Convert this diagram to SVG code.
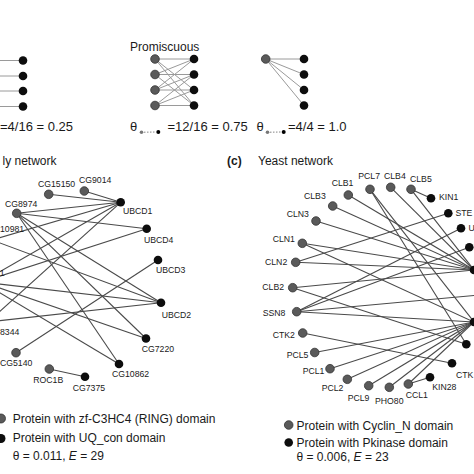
<svg xmlns="http://www.w3.org/2000/svg" width="474" height="474" viewBox="0 0 474 474">
<style>
text{font-family:"Liberation Sans",Arial,sans-serif;fill:#1a1a1a}
.lbl{font-size:8.7px}
.ttl{font-size:12px}
.big{font-size:13px}
.leg{font-size:12px}
.g{fill:#5a5a5a;stroke:#333;stroke-width:0.8}
.k{fill:#0d0d0d}
.e1{stroke:#9a9a9a;stroke-width:1;fill:none}
.e{stroke:#4a4a4a;stroke-width:1.1;fill:none}
</style>
<rect width="474" height="474" fill="#fff"/>

<!-- top schematic -->
<g id="topEdges" class="e1">
<line x1="-5" y1="60.5" x2="23" y2="60.5"/><line x1="-5" y1="76" x2="23" y2="76"/><line x1="-5" y1="91" x2="23" y2="91"/><line x1="-5" y1="106.5" x2="23" y2="106.5"/>
<line x1="155" y1="59" x2="194" y2="59"/><line x1="155" y1="59" x2="194" y2="90"/><line x1="155" y1="59" x2="194" y2="105.5"/>
<line x1="155" y1="74.5" x2="194" y2="59"/><line x1="155" y1="74.5" x2="194" y2="74.5"/><line x1="155" y1="74.5" x2="194" y2="105.5"/>
<line x1="155" y1="90" x2="194" y2="59"/><line x1="155" y1="90" x2="194" y2="74.5"/><line x1="155" y1="90" x2="194" y2="90"/>
<line x1="155" y1="105.5" x2="194" y2="74.5"/><line x1="155" y1="105.5" x2="194" y2="90"/><line x1="155" y1="105.5" x2="194" y2="105.5"/>
<line x1="265.7" y1="59" x2="304" y2="59"/><line x1="265.7" y1="59" x2="304" y2="74.5"/><line x1="265.7" y1="59" x2="304" y2="90"/><line x1="265.7" y1="59" x2="304" y2="105.5"/>
</g>
<g id="schematic1">
<circle class="k" cx="23" cy="60.5" r="4.3"/><circle class="k" cx="23" cy="76" r="4.3"/><circle class="k" cx="23" cy="91" r="4.3"/><circle class="k" cx="23" cy="106.5" r="4.3"/>
<text class="big" x="0" y="131">=4/16 = 0.25</text>
</g>
<g id="schematic2">
<text class="ttl" x="130" y="51">Promiscuous</text>
<circle class="g" cx="155" cy="59" r="4.3"/><circle class="g" cx="155" cy="74.5" r="4.3"/><circle class="g" cx="155" cy="90" r="4.3"/><circle class="g" cx="155" cy="105.5" r="4.3"/>
<circle class="k" cx="194" cy="59" r="4.3"/><circle class="k" cx="194" cy="74.5" r="4.3"/><circle class="k" cx="194" cy="90" r="4.3"/><circle class="k" cx="194" cy="105.5" r="4.3"/>
<text class="big" x="130" y="131">θ</text>
<circle cx="141.5" cy="132.3" r="1.8" fill="#777"/><line x1="144" y1="132.2" x2="156" y2="132" stroke="#666" stroke-width="0.8" stroke-dasharray="1.5 1.5"/><circle cx="158.3" cy="132" r="2" fill="#000"/>
<text class="big" x="167.5" y="131">=12/16 = 0.75</text>
</g>
<g id="schematic3">
<circle class="g" cx="265.7" cy="59" r="4.3"/>
<circle class="k" cx="304" cy="59" r="4.3"/><circle class="k" cx="304" cy="74.5" r="4.3"/><circle class="k" cx="304" cy="90" r="4.3"/><circle class="k" cx="304" cy="105.5" r="4.3"/>
<text class="big" x="256.5" y="131">θ</text>
<circle cx="267.5" cy="132.3" r="1.8" fill="#777"/><line x1="270" y1="132.2" x2="281.5" y2="132" stroke="#666" stroke-width="0.8" stroke-dasharray="1.5 1.5"/><circle cx="283.7" cy="132" r="2" fill="#000"/>
<text class="big" x="288" y="131">=4/4 = 1.0</text>
</g>

<!-- fly network -->
<text class="ttl" x="2.5" y="165">ly network</text>
<g id="flyEdges" class="e">
<line x1="48.7" y1="194.3" x2="120.7" y2="202.3"/>
<line x1="84.3" y1="191" x2="120.7" y2="202.3"/>
<line x1="16.7" y1="213.3" x2="120.7" y2="202.3"/>
<line x1="16.7" y1="213.3" x2="146.7" y2="228.7"/>
<line x1="16.7" y1="213.3" x2="161" y2="302.7"/>
<line x1="16.7" y1="213.3" x2="146" y2="338.5"/>
<line x1="16.7" y1="213.3" x2="119" y2="364"/>
<line x1="-8" y1="240" x2="120.7" y2="202.3"/>
<line x1="-8" y1="240" x2="161" y2="302.7"/>
<line x1="-18" y1="282" x2="120.7" y2="202.3"/>
<line x1="-18" y1="282" x2="146.7" y2="228.7"/>
<line x1="-18" y1="282" x2="161" y2="302.7"/>
<line x1="-18" y1="282" x2="146" y2="338.5"/>
<line x1="-18" y1="282" x2="119" y2="364"/>
<line x1="-12" y1="322" x2="120.7" y2="202.3"/>
<line x1="-12" y1="322" x2="161" y2="302.7"/>
<line x1="16" y1="352.7" x2="158" y2="260"/>
<line x1="49.3" y1="369" x2="85" y2="376.7"/>
</g>
<g id="CG15150"><circle class="g" cx="48.7" cy="194.3" r="4.3"/><text class="lbl" x="38" y="187">CG15150</text></g>
<g id="CG9014"><circle class="g" cx="84.3" cy="191" r="4.3"/><text class="lbl" x="79" y="183">CG9014</text></g>
<g id="CG8974"><circle class="g" cx="16.7" cy="213.3" r="4.3"/><text class="lbl" x="5" y="206.5">CG8974</text></g>
<g id="CG10981"><circle class="g" cx="-8" cy="240" r="4.3"/><text class="lbl" x="0" y="231.5">10981</text></g>
<g id="CG1"><circle class="g" cx="-18" cy="282" r="4.3"/><text class="lbl" x="4.5" y="275.5" text-anchor="end">1</text></g>
<g id="CG8344"><circle class="g" cx="-12" cy="322" r="4.3"/><text class="lbl" x="0" y="335">8344</text></g>
<g id="CG5140"><circle class="g" cx="16" cy="352.7" r="4.3"/><text class="lbl" x="0" y="366">CG5140</text></g>
<g id="ROC1B"><circle class="g" cx="49.3" cy="369" r="4.3"/><text class="lbl" x="33.3" y="383">ROC1B</text></g>
<g id="CG7375"><circle class="k" cx="85" cy="376.7" r="4.3"/><text class="lbl" x="72.7" y="391">CG7375</text></g>
<g id="CG10862"><circle class="k" cx="119" cy="364" r="4.3"/><text class="lbl" x="112" y="376.5">CG10862</text></g>
<g id="CG7220"><circle class="k" cx="146" cy="338.5" r="4.3"/><text class="lbl" x="141.7" y="352">CG7220</text></g>
<g id="UBCD2"><circle class="k" cx="161" cy="302.7" r="4.3"/><text class="lbl" x="161.7" y="318">UBCD2</text></g>
<g id="UBCD3"><circle class="k" cx="158" cy="260" r="4.3"/><text class="lbl" x="156" y="273">UBCD3</text></g>
<g id="UBCD4"><circle class="k" cx="146.7" cy="228.7" r="4.3"/><text class="lbl" x="144" y="242.5">UBCD4</text></g>
<g id="UBCD1"><circle class="k" cx="120.7" cy="202.3" r="4.3"/><text class="lbl" x="123" y="214">UBCD1</text></g>
<g id="flyLegend">
<circle class="g" cx="1" cy="418.5" r="4.5"/><text class="leg" x="12.7" y="422.5">Protein with zf-C3HC4 (RING) domain</text>
<circle class="k" cx="1" cy="438.5" r="4.5"/><text class="leg" x="12.7" y="442.3">Protein with UQ_con domain</text>
<text class="leg" x="12.7" y="460.3">θ = 0.011, <tspan font-style="italic">E</tspan> = 29</text>
</g>

<!-- yeast network -->
<text x="227" y="165" style="font-size:12px;font-weight:bold">(c)</text>
<text class="ttl" x="258" y="165">Yeast network</text>
<g id="yeastEdges" class="e">
<line x1="348.3" y1="195" x2="474" y2="270"/>
<line x1="332.7" y1="206" x2="474" y2="270"/>
<line x1="390.7" y1="187.3" x2="474" y2="270"/>
<line x1="411" y1="189.3" x2="474" y2="270"/>
<line x1="411" y1="189.3" x2="431" y2="198.3"/>
<line x1="316" y1="221" x2="474" y2="270"/>
<line x1="302.3" y1="243.3" x2="474" y2="270"/>
<line x1="302.3" y1="243.3" x2="474" y2="322"/>
<line x1="295.7" y1="262.3" x2="474" y2="270"/>
<line x1="295.7" y1="262.3" x2="448.3" y2="213.3"/>
<line x1="292.7" y1="287.7" x2="474" y2="270"/>
<line x1="292.7" y1="287.7" x2="466.3" y2="344.2"/>
<line x1="370" y1="189.3" x2="474" y2="322"/>
<line x1="370" y1="189.3" x2="466.3" y2="344.2"/>
<line x1="296.7" y1="311.7" x2="461" y2="228.3"/>
<line x1="296.7" y1="311.7" x2="469.3" y2="247.3"/>
<line x1="296.7" y1="311.7" x2="480" y2="295"/>
<line x1="296.7" y1="311.7" x2="474" y2="322"/>
<line x1="302.7" y1="333" x2="452" y2="363.3"/>
<line x1="314.7" y1="352.5" x2="474" y2="322"/>
<line x1="330" y1="368.7" x2="474" y2="322"/>
<line x1="347.3" y1="379.3" x2="474" y2="322"/>
<line x1="368.7" y1="385.7" x2="474" y2="322"/>
<line x1="389.3" y1="387.3" x2="474" y2="322"/>
<line x1="408.3" y1="384" x2="474" y2="322"/>
<line x1="408.3" y1="384" x2="430" y2="377.3"/>
</g>
<g id="CLB1"><circle class="g" cx="348.3" cy="195" r="4.3"/><text class="lbl" x="331.7" y="186">CLB1</text></g>
<g id="PCL7"><circle class="g" cx="370" cy="189.3" r="4.3"/><text class="lbl" x="358.3" y="178.5">PCL7</text></g>
<g id="CLB4"><circle class="g" cx="390.7" cy="187.3" r="4.3"/><text class="lbl" x="384" y="178.5">CLB4</text></g>
<g id="CLB5"><circle class="g" cx="411" cy="189.3" r="4.3"/><text class="lbl" x="410" y="181.8">CLB5</text></g>
<g id="CLB3"><circle class="g" cx="332.7" cy="206" r="4.3"/><text class="lbl" x="304" y="198.5">CLB3</text></g>
<g id="CLN3"><circle class="g" cx="316" cy="221" r="4.3"/><text class="lbl" x="286.7" y="217">CLN3</text></g>
<g id="CLN1"><circle class="g" cx="302.3" cy="243.3" r="4.3"/><text class="lbl" x="272.7" y="242">CLN1</text></g>
<g id="CLN2"><circle class="g" cx="295.7" cy="262.3" r="4.3"/><text class="lbl" x="265" y="264.5">CLN2</text></g>
<g id="CLB2"><circle class="g" cx="292.7" cy="287.7" r="4.3"/><text class="lbl" x="262.3" y="290">CLB2</text></g>
<g id="SSN8"><circle class="g" cx="296.7" cy="311.7" r="4.3"/><text class="lbl" x="262.7" y="315.5">SSN8</text></g>
<g id="CTK2"><circle class="g" cx="302.7" cy="333" r="4.3"/><text class="lbl" x="272.7" y="337.5">CTK2</text></g>
<g id="PCL5"><circle class="g" cx="314.7" cy="352.5" r="4.3"/><text class="lbl" x="286.7" y="358">PCL5</text></g>
<g id="PCL1"><circle class="g" cx="330" cy="368.7" r="4.3"/><text class="lbl" x="302.7" y="374">PCL1</text></g>
<g id="PCL2"><circle class="g" cx="347.3" cy="379.3" r="4.3"/><text class="lbl" x="321.7" y="390.5">PCL2</text></g>
<g id="PCL9"><circle class="g" cx="368.7" cy="385.7" r="4.3"/><text class="lbl" x="347.7" y="400.5">PCL9</text></g>
<g id="PHO80"><circle class="g" cx="389.3" cy="387.3" r="4.3"/><text class="lbl" x="375" y="403.5">PHO80</text></g>
<g id="CCL1"><circle class="g" cx="408.3" cy="384" r="4.3"/><text class="lbl" x="405.7" y="398">CCL1</text></g>
<g id="KIN28"><circle class="k" cx="430" cy="377.3" r="4.3"/><text class="lbl" x="432.3" y="390">KIN28</text></g>
<g id="CTK1"><circle class="k" cx="452" cy="363.3" r="4.3"/><text class="lbl" x="456" y="377.5">CTK</text></g>
<g id="N344"><circle class="k" cx="466.3" cy="344.2" r="4.3"/></g>
<g id="H2"><circle class="k" cx="474" cy="322" r="4.3"/></g>
<g id="H1"><circle class="k" cx="474" cy="270" r="4.3"/></g>
<g id="N247"><circle class="k" cx="469.3" cy="247.3" r="4.3"/></g>
<g id="U"><circle class="k" cx="461" cy="228.3" r="4.3"/><text class="lbl" x="468.5" y="231">U</text></g>
<g id="STE"><circle class="k" cx="448.3" cy="213.3" r="4.3"/><text class="lbl" x="455.5" y="216">STE</text></g>
<g id="KIN1"><circle class="k" cx="431" cy="198.3" r="4.3"/><text class="lbl" x="439" y="200">KIN1</text></g>
<g id="yeastLegend">
<circle class="g" cx="288.7" cy="425" r="4.3"/><text class="leg" x="296.5" y="429.5">Protein with Cyclin_N domain</text>
<circle class="k" cx="288.7" cy="442.5" r="4.3"/><text class="leg" x="296.5" y="447">Protein with Pkinase domain</text>
<text class="leg" x="296.5" y="461">θ = 0.006, <tspan font-style="italic">E</tspan> = 23</text>
</g>
</svg>
